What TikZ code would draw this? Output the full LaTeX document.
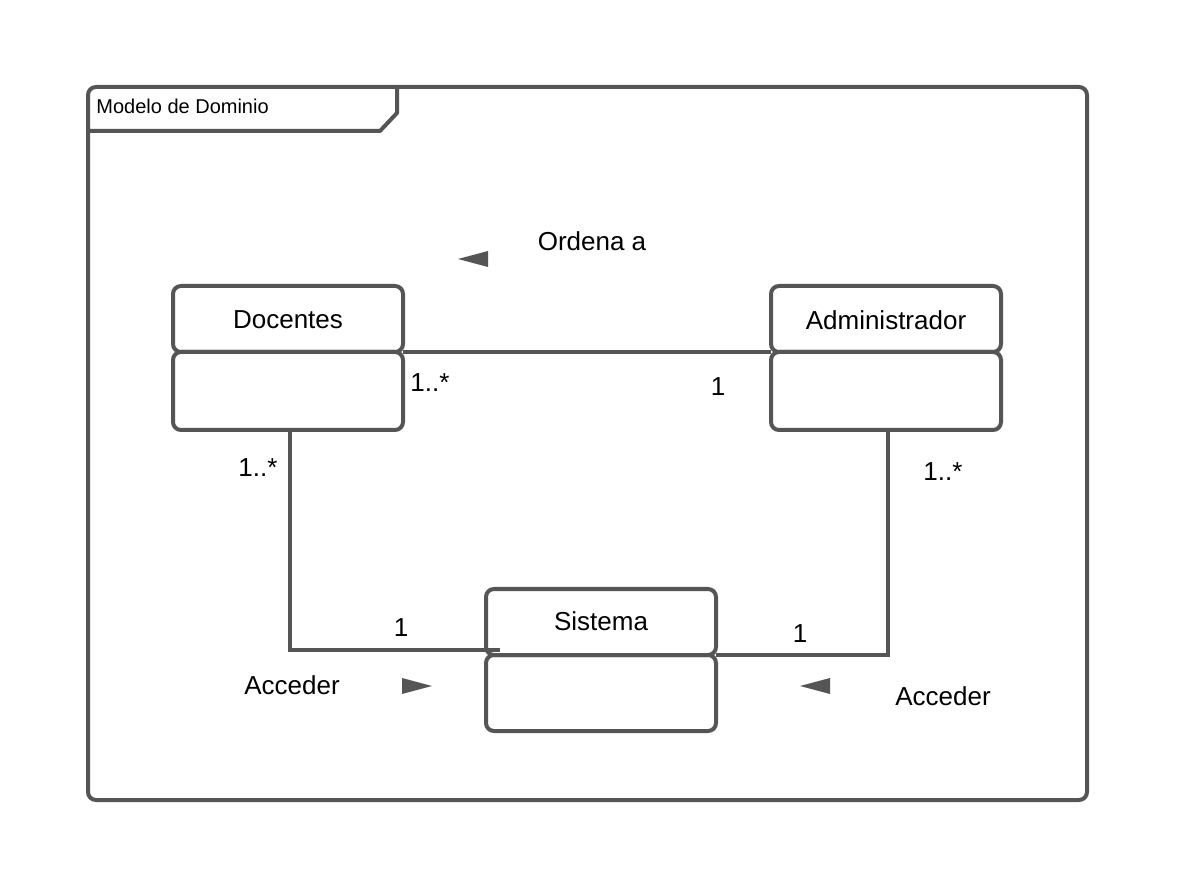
\documentclass[tikz,border=0pt]{standalone}
\usepackage{fontspec}
\setmainfont{Liberation Sans}
\begin{document}
\begin{tikzpicture}[x=0.5pt,y=-0.5pt,
  ln/.style={draw=gc,line width=2pt},
  cls/.style={ln,rounded corners=4pt},
  lbl/.style={font=\fontsize{13}{15}\selectfont,text=black,inner sep=0pt},
  tri/.style={fill=gc,draw=none}]
\definecolor{gc}{HTML}{555555}
\useasboundingbox (0,0) rectangle (1200,887);
\fill[white] (0,0) rectangle (1200,887);
\draw[cls] (88,87) rectangle (1087,800);
\draw[ln,line join=round] (88,131) -- (380,131) -- (397,113) -- (397,87);
\node[lbl,anchor=west,font=\fontsize{10}{12}\selectfont] (title) at (96,106) {Modelo de Dominio};
% classes
\draw[cls] (173,286) rectangle (403,352); \draw[cls] (173,352) rectangle (403,430);
\node[lbl] (doc) at (288,320) {Docentes};
\draw[cls] (771,286) rectangle (1001,352); \draw[cls] (771,352) rectangle (1001,430);
\node[lbl] (adm) at (886,320) {Administrador};
\draw[cls] (486,589) rectangle (716,655); \draw[cls] (486,655) rectangle (716,731);
\node[lbl] (sis) at (601,621) {Sistema};
\coordinate (d1) at (403,352); \coordinate (a1) at (771,352);
\coordinate (d2) at (290,430); \coordinate (s1) at (500,650);
\coordinate (a2) at (888,430); \coordinate (s2) at (716,655);
\draw[ln] (d1) -- (a1);
\draw[ln] (d2) |- (s1);
\draw[ln] (a2) |- (s2);
\node[lbl] at (592,241) {Ordena a};
\fill[tri] (458,259) -- (488,251) -- (488,267) -- cycle;
\node[lbl] at (430,383) {1..*};
\node[lbl] at (718,387) {1};
\node[lbl] at (258,468) {1..*};
\node[lbl] at (943,472) {1..*};
\node[lbl] at (401,628) {1};
\node[lbl] at (800,634) {1};
\node[lbl] at (292,685) {Acceder};
\fill[tri] (432,686) -- (402,678) -- (402,694) -- cycle;
\node[lbl] at (943,696) {Acceder};
\fill[tri] (800,686) -- (830,678) -- (830,694) -- cycle;
\end{tikzpicture}
\end{document}
